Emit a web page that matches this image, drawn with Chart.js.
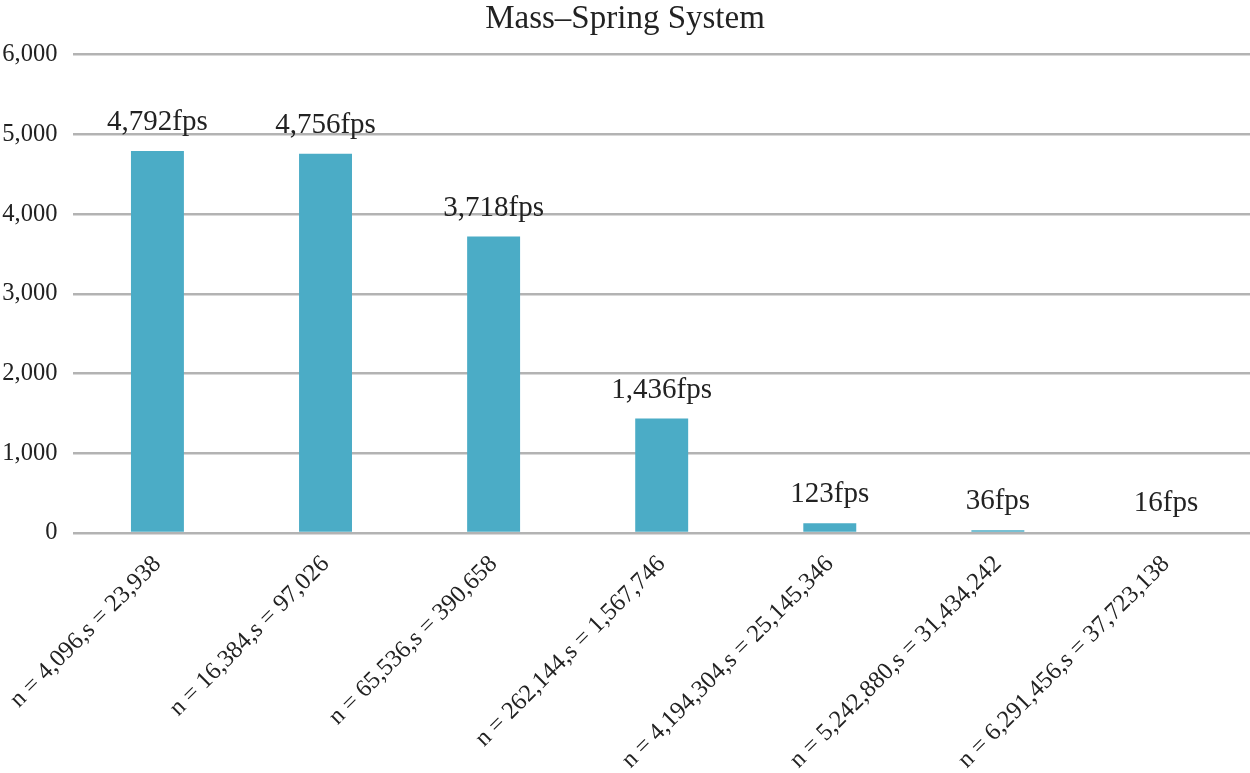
<!DOCTYPE html>
<html>
<head>
<meta charset="utf-8">
<script src="https://cdn.jsdelivr.net/npm/chart.js@4.4.0/dist/chart.umd.min.js"></script>
<style>
  html, body { margin: 0; padding: 0; background: #fff; }
  #wrap { width: 1250px; height: 773px; }
</style>
</head>
<body>
<div id="wrap"><canvas id="massSpringChart"></canvas></div>
<script>
// Chart data
const categories = [
    'n = 4,096,s = 23,938',
    'n = 16,384,s = 97,026',
    'n = 65,536,s = 390,658',
    'n = 262,144,s = 1,567,746',
    'n = 4,194,304,s = 25,145,346',
    'n = 5,242,880,s = 31,434,242',
    'n = 6,291,456,s = 37,723,138'
];
const fpsValues = [4792, 4756, 3718, 1436, 123, 36, 16];
const yTicks = [0, 1000, 2000, 3000, 4000, 5000, 6000];

const serif = "'Liberation Serif', 'DejaVu Serif', serif";

// Draw "1,234fps" above each bar
const valueLabels = {
    id: 'valueLabels',
    afterDatasetsDraw(chart) {
        const ctx = chart.ctx;
        const meta = chart.getDatasetMeta(0);
        ctx.save();
        ctx.font = '29px ' + serif;
        ctx.fillStyle = '#222';
        ctx.textAlign = 'center';
        ctx.textBaseline = 'alphabetic';
        meta.data.forEach(function(bar, i) {
            const text = fpsValues[i].toLocaleString('en-US') + 'fps';
            ctx.fillText(text, bar.x, bar.y - 21);
        });
        ctx.restore();
    }
};

const ctx = document.getElementById('massSpringChart').getContext('2d');
window.massSpringChart = new Chart(ctx, {
    type: 'bar',
    data: {
        labels: categories,
        datasets: [{
            data: fpsValues,
            backgroundColor: '#4BACC6',
            barPercentage: 0.315,
            categoryPercentage: 1.0
        }]
    },
    options: {
        responsive: true,
        maintainAspectRatio: false,
        animation: false,
        layout: { padding: { left: 0, right: 0, top: 0, bottom: 0 } },
        scales: {
            x: {
                grid: { display: false },
                border: { display: false },
                ticks: {
                    minRotation: 45,
                    maxRotation: 45,
                    autoSkip: false,
                    padding: 9,
                    color: '#222',
                    font: { family: serif, size: 24.5 }
                },
                afterFit: function(scale) { scale.height = 240; }
            },
            y: {
                min: 0,
                max: 6000,
                afterBuildTicks: function(scale) {
                    scale.ticks = yTicks.map(v => ({ value: v }));
                },
                grid: { color: '#b3b3b3', lineWidth: 2.5, drawTicks: false },
                border: { display: false },
                ticks: {
                    padding: 16,
                    color: '#222',
                    font: { family: serif, size: 24.5 }
                },
                afterFit: function(scale) { scale.width = 73; }
            }
        },
        plugins: {
            legend: { display: false },
            tooltip: { enabled: false },
            title: {
                display: true,
                text: 'Mass–Spring System',
                color: '#222',
                font: { family: serif, size: 33, weight: 'normal' },
                padding: { top: 0, bottom: 15 }
            }
        }
    },
    plugins: [valueLabels]
});
</script>
</body>
</html>
